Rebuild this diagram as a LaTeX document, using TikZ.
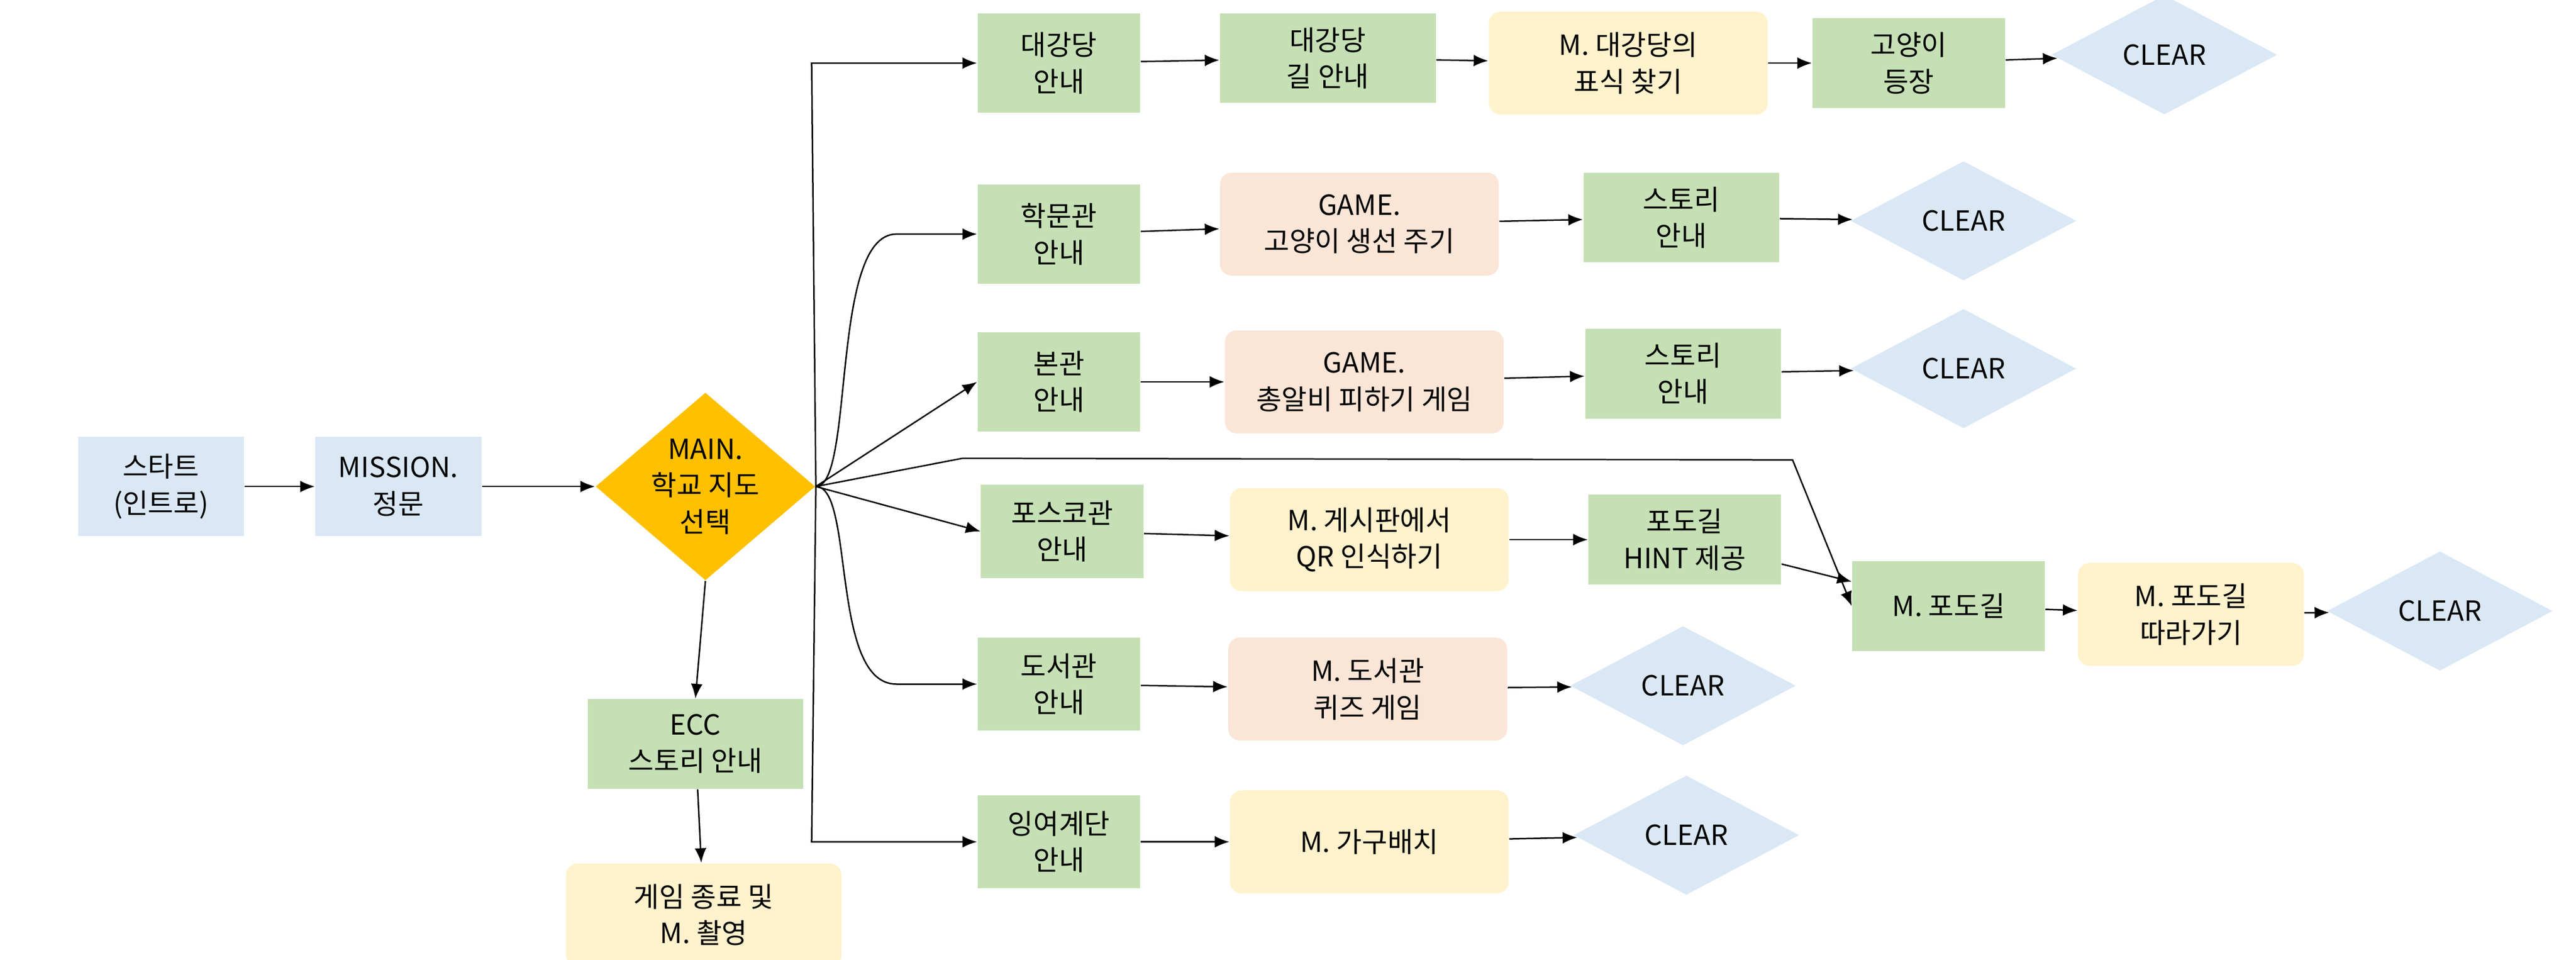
\documentclass[tikz,border=0pt]{standalone}
\usepackage{fontspec}
\setmainfont{Noto Sans CJK KR}
\usetikzlibrary{shapes.geometric,arrows.meta}
\definecolor{cblue}{HTML}{DAE8F5}
\definecolor{cgreen}{HTML}{C5E0B4}
\definecolor{cyel}{HTML}{FFF2CC}
\definecolor{cpeach}{HTML}{FBE5D6}
\definecolor{cgold}{HTML}{FFC000}
\tikzset{
 bx/.style 2 args={rectangle,minimum width=#1*0.02cm,minimum height=#2*0.02cm,align=center,inner sep=1pt},
 blu/.style={fill=cblue},
 grn/.style={fill=cgreen},
 yel/.style={fill=cyel,rounded corners=4pt},
 pch/.style={fill=cpeach,rounded corners=4pt},
 clr/.style={diamond,aspect=1.9,fill=cblue,minimum width=2.72cm,minimum height=1.44cm,inner sep=0pt},
 ar/.style={-{Latex[length=5pt,width=4pt]},line width=0.5pt},
}
\begin{document}
\begin{tikzpicture}[x=0.02cm,y=-0.02cm,font=\fontsize{9.5}{12.5}\selectfont]
\useasboundingbox (0,0) rectangle (1552,578);
\node[bx={100}{60},blu] (start) at (97,293) {스타트\\(인트로)};
\node[bx={100}{60},blu] (mis) at (240,293) {MISSION.\\정문};
\node[diamond,aspect=1.17,fill=cgold,minimum width=2.52cm,minimum height=2.16cm,inner sep=0pt,align=center] (main) at (425,293) {MAIN.\\학교 지도\\선택};
\node[bx={130}{54},grn] (ecc) at (419,448) {ECC\\스토리 안내};
\node[bx={166}{62},yel] (end) at (424,551) {게임 종료 및\\M. 촬영};
% row 1
\node[bx={98}{60},grn] (a1) at (638,38) {대강당\\안내};
\node[bx={130}{54},grn] (a2) at (800,35) {대강당\\길 안내};
\node[bx={168}{62},yel] (a3) at (981,38) {M. 대강당의\\표식 찾기};
\node[bx={116}{54},grn] (a4) at (1150,38) {고양이\\등장};
\node[clr] (a5) at (1304,33) {CLEAR};
% row 2
\node[bx={98}{60},grn] (b1) at (638,141) {학문관\\안내};
\node[bx={168}{62},pch] (b2) at (819,135) {GAME.\\고양이 생선 주기};
\node[bx={118}{54},grn] (b3) at (1013,131) {스토리\\안내};
\node[clr] (b4) at (1183,133) {CLEAR};
% row 3
\node[bx={98}{60},grn] (c1) at (638,230) {본관\\안내};
\node[bx={168}{62},pch] (c2) at (822,230) {GAME.\\총알비 피하기 게임};
\node[bx={118}{54},grn] (c3) at (1014,225) {스토리\\안내};
\node[clr] (c4) at (1183,222) {CLEAR};
% row 4
\node[bx={98}{56},grn] (d1) at (640,320) {포스코관\\안내};
\node[bx={168}{62},yel] (d2) at (825,325) {M. 게시판에서\\QR 인식하기};
\node[bx={116}{54},grn] (d3) at (1015,325) {포도길\\HINT 제공};
\node[bx={116}{54},grn] (d4) at (1174,365) {M. 포도길};
\node[bx={136}{62},yel] (d5) at (1320,370) {M. 포도길\\따라가기};
\node[clr] (d6) at (1470,368) {CLEAR};
% row 5
\node[bx={98}{56},grn] (e1) at (638,412) {도서관\\안내};
\node[bx={168}{62},pch] (e2) at (824,415) {M. 도서관\\퀴즈 게임};
\node[clr] (e3) at (1014,413) {CLEAR};
% row 6
\node[bx={98}{56},grn] (f1) at (638,507) {잉여계단\\안내};
\node[bx={168}{62},yel] (f2) at (825,507) {M. 가구배치};
\node[clr] (f3) at (1016,503) {CLEAR};
% connectors
\draw[ar] (start) -- (mis);
\draw[ar] (mis) -- (main);
\draw[ar] (main.south) -- (ecc.north);
\draw[ar] (ecc) -- (end);
\coordinate (m) at (main.east);
\draw[ar] (m) -- (489,38) -- (a1.west);
\draw[ar] (m) -- (489,507) -- (f1.west);
\draw[ar] (m) .. controls (515,293) and (500,141) .. (540,141) -- (b1.west);
\draw[ar] (m) .. controls (515,293) and (500,412) .. (540,412) -- (e1.west);
\draw[ar] (m) -- (c1.west);
\draw[ar] (m) -- (d1.west);
\draw[ar] (m) -- (580,276) -- (1080,277) -- (d4.west);
\draw[ar] (a1) -- (a2); \draw[ar] (a2) -- (a3); \draw[ar] (a3) -- (a4); \draw[ar] (a4) -- (a5);
\draw[ar] (b1) -- (b2); \draw[ar] (b2) -- (b3); \draw[ar] (b3) -- (b4);
\draw[ar] (c1) -- (c2); \draw[ar] (c2) -- (c3); \draw[ar] (c3) -- (c4);
\draw[ar] (d1) -- (d2); \draw[ar] (d2) -- (d3); \draw[ar] (d3) -- (d4); \draw[ar] (d4) -- (d5); \draw[ar] (d5) -- (d6);
\draw[ar] (e1) -- (e2); \draw[ar] (e2) -- (e3);
\draw[ar] (f1) -- (f2); \draw[ar] (f2) -- (f3);
\end{tikzpicture}
\end{document}
